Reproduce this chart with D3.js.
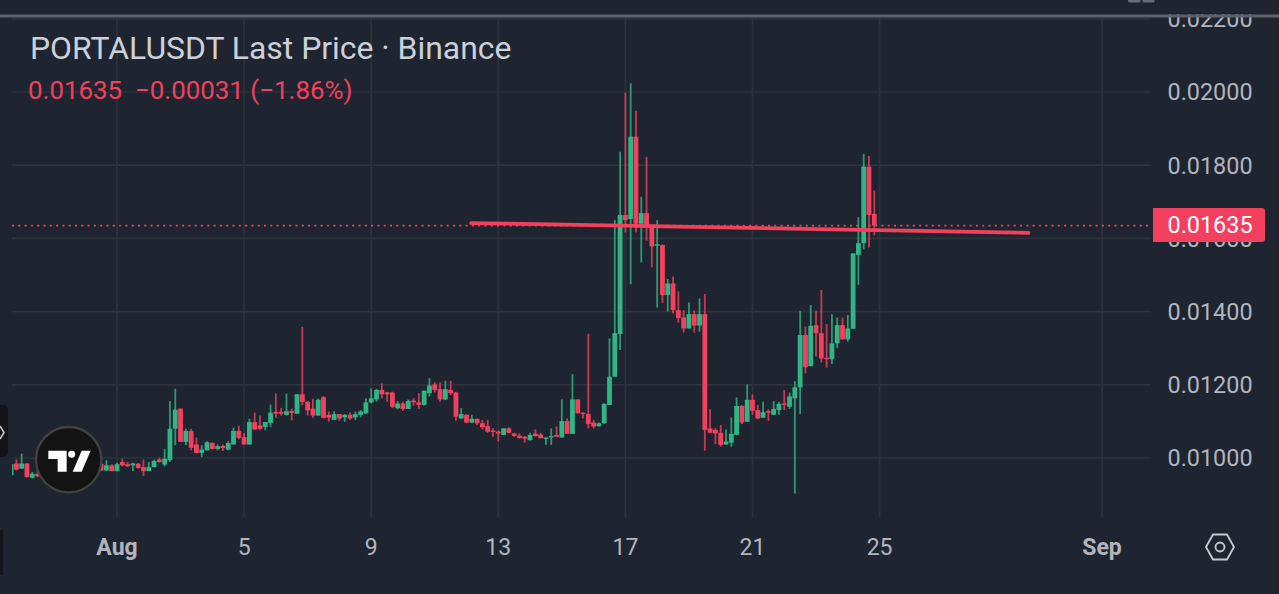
<!DOCTYPE html>
<html><head><meta charset="utf-8">
<script src="https://cdn.jsdelivr.net/npm/d3@7"></script>
<style>html,body{margin:0;padding:0;background:#1f2530;overflow:hidden}svg{display:block}text{font-family:Roboto,sans-serif}</style>
</head><body><svg id="c" width="1279" height="594"></svg>
<script>
// Prices in units of 0.00001 USDT; 4-hour candles
const priceUnit = 0.00001;
const candleHours = 4;
const firstCandle = Date.UTC(2024,6,28,16);
const highs = [1010,996,1012,985,962,966,972,975,978,980,
982,984,985,986,988,990,992,989,994,983,
987,998,989,987,986,996,989,995,1001,1025,
1156,1189,1135,1080,1080,1056,1035,1046,1043,1037,
1037,1046,1083,1088,1068,1107,1124,1116,1098,1146,
1176,1137,1176,1135,1174,1358,1156,1162,1162,1169,
1127,1128,1120,1120,1124,1127,1131,1163,1190,1189,
1204,1181,1181,1156,1154,1160,1163,1177,1184,1218,
1207,1206,1211,1211,1181,1136,1120,1118,1108,1104,
1104,1081,1075,1081,1084,1069,1067,1060,1069,1078,
1069,1056,1081,1086,1160,1108,1229,1160,1124,1339,
1104,1097,1149,1327,1650,1837,1998,2024,1949,1714,
1822,1637,1650,1584,1489,1496,1455,1404,1425,1403,
1436,1448,1133,1081,1090,1078,1111,1166,1145,1201,
1174,1145,1154,1133,1156,1154,1186,1179,1210,1402,
1359,1418,1402,1459,1366,1393,1384,1384,1391,1559,
1658,1831,1825,1731];
const lows = [953,966,971,946,944,948,950,955,956,960,
960,962,964,965,966,966,968,964,964,964,
964,977,975,964,971,951,964,975,987,977,
989,1035,1044,1035,1021,1012,1003,1021,1023,1021,
1019,1021,1037,1051,1037,1037,1076,1076,1076,1085,
1110,1116,1116,1103,1121,1144,1116,1110,1116,1108,
1099,1104,1102,1099,1104,1104,1111,1120,1149,1154,
1163,1154,1136,1133,1129,1134,1143,1134,1143,1168,
1179,1154,1158,1172,1102,1108,1095,1095,1090,1078,
1069,1058,1045,1063,1067,1058,1054,1042,1047,1058,
1054,1036,1036,1058,1056,1066,1066,1122,1108,1081,
1081,1086,1093,1145,1222,1295,1616,1475,1616,1534,
1594,1521,1411,1423,1400,1395,1370,1343,1354,1343,
1345,1020,1069,1038,1031,1036,1031,1063,1093,1099,
1118,1106,1110,1101,1118,1118,1131,1134,903,1120,
1231,1251,1277,1261,1247,1257,1300,1324,1318,1353,
1473,1570,1575,1609];
const opens = [953,985,971,985,946,957,952,968,958,972,
962,976,966,980,968,982,970,984,966,980,
964,989,983,980,984,975,964,975,996,982,
994,1080,1135,1044,1074,1037,1014,1021,1041,1025,
1033,1023,1037,1074,1057,1037,1098,1089,1085,1096,
1126,1126,1118,1128,1121,1174,1153,1135,1116,1166,
1118,1104,1120,1111,1118,1111,1118,1122,1152,1160,
1186,1179,1179,1136,1149,1134,1157,1152,1145,1177,
1201,1188,1160,1186,1179,1108,1118,1097,1107,1095,
1087,1075,1072,1063,1081,1067,1061,1058,1049,1067,
1064,1054,1056,1063,1056,1101,1066,1160,1124,1120,
1097,1087,1095,1145,1222,1339,1664,1653,1878,1640,
1669,1637,1580,1582,1445,1477,1404,1384,1354,1393,
1362,1393,1081,1077,1069,1037,1042,1063,1142,1099,
1159,1131,1110,1128,1118,1131,1149,1140,1163,1193,
1336,1251,1363,1341,1274,1270,1313,1363,1324,1353,
1555,1587,1796,1667];
const closes = [983,968,985,948,957,950,965,958,972,962,
975,966,978,968,980,970,984,966,980,964,
983,980,978,985,973,964,975,992,989,998,
1080,1132,1044,1074,1028,1014,1023,1043,1025,1032,
1027,1041,1074,1055,1037,1098,1078,1080,1098,1124,
1121,1121,1128,1123,1174,1153,1130,1116,1159,1110,
1110,1120,1108,1118,1108,1120,1127,1152,1163,1186,
1174,1174,1140,1149,1134,1156,1152,1145,1184,1198,
1186,1160,1188,1177,1113,1120,1097,1107,1095,1084,
1072,1072,1067,1081,1069,1060,1054,1053,1063,1060,
1054,1056,1060,1058,1101,1066,1160,1122,1120,1093,
1086,1095,1148,1222,1341,1664,1650,1878,1640,1669,
1637,1578,1584,1445,1477,1404,1382,1354,1393,1362,
1393,1077,1069,1067,1036,1045,1066,1142,1097,1159,
1129,1108,1125,1124,1134,1148,1146,1168,1193,1336,
1248,1361,1341,1272,1270,1313,1363,1324,1354,1559,
1587,1796,1664,1635];
const priceTicks = [0.022,0.020,0.018,0.016,0.014,0.012,0.010];
const timeTicks = [Date.UTC(2024,7,1),Date.UTC(2024,7,5),Date.UTC(2024,7,9),Date.UTC(2024,7,13),Date.UTC(2024,7,17),Date.UTC(2024,7,21),Date.UTC(2024,7,25),Date.UTC(2024,8,1)];
const timeLabels = ["Aug","5","9","13","17","21","25","Sep"];
const lastPrice = 0.01635;
const titleText = "PORTALUSDT Last Price \u00b7 Binance";
const changeText = "0.01635  \u22120.00031 (\u22121.86%)";
const trendTimes = [Date.UTC(2024,7,12,3,30),Date.UTC(2024,7,29,16,30)];
const trendPrices = [0.01642,0.01615];

const UP="#2fb586", DOWN="#f2405d", BG="#1f2530", GRID="#2d323c", TXT="#b2b5be";
const svg=d3.select("#c");
const x=d3.scaleUtc().domain([timeTicks[0],timeTicks[7]]).range([117,1102]);
const y=d3.scaleLinear().domain([0.010,0.020]).range([458,92]);
const clipL=12, clipR=1151;

svg.append("defs").append("clipPath").attr("id","plot").append("rect").attr("x",clipL).attr("y",17).attr("width",clipR-clipL).attr("height",500);

// grid
svg.append("g").selectAll("line").data(priceTicks).join("line")
 .attr("x1",clipL).attr("x2",clipR).attr("y1",d=>y(d)).attr("y2",d=>y(d)).attr("stroke",GRID).attr("stroke-width",1.7);
svg.append("g").selectAll("line").data(timeTicks).join("line")
 .attr("x1",d=>x(d)).attr("x2",d=>x(d)).attr("y1",17).attr("y2",517).attr("stroke",GRID).attr("stroke-width",1.7);

// y labels
svg.append("g").selectAll("text").data(priceTicks).join("text")
 .attr("x",1167.5).attr("y",d=>y(d)).attr("dy","0.36em").attr("font-size",23.4).attr("fill",TXT).text(d=>d.toFixed(5));

// x labels
svg.append("g").selectAll("text").data(timeTicks).join("text")
 .attr("x",d=>x(d)).attr("y",547).attr("dy","0.36em").attr("text-anchor","middle").attr("font-size",23)
 .attr("font-weight",(d,i)=>(i==0||i==7)?700:400).attr("fill",TXT).text((d,i)=>timeLabels[i]);

const plot=svg.append("g").attr("clip-path","url(#plot)");
// last price dotted line
plot.append("line").attr("x1",clipL).attr("x2",clipR).attr("y1",y(lastPrice)).attr("y2",y(lastPrice))
 .attr("stroke",DOWN).attr("stroke-width",1.6).attr("stroke-dasharray","2 4.3");

// candles
const idx=d3.range(opens.length);
const t=i=>firstCandle+i*candleHours*3600e3;
const col=i=>closes[i]>=opens[i]?UP:DOWN;
plot.append("g").selectAll("line").data(idx).join("line")
 .attr("x1",i=>x(t(i))).attr("x2",i=>x(t(i)))
 .attr("y1",i=>y(highs[i]*priceUnit)).attr("y2",i=>y(lows[i]*priceUnit))
 .attr("stroke",col).attr("stroke-width",1.8).attr("stroke-opacity",0.8);
plot.append("g").selectAll("rect").data(idx).join("rect")
 .attr("x",i=>x(t(i))-2.4).attr("width",4.8)
 .attr("y",i=>Math.min(y(opens[i]*priceUnit),y(closes[i]*priceUnit)))
 .attr("height",i=>Math.max(1.4,Math.abs(y(opens[i]*priceUnit)-y(closes[i]*priceUnit))))
 .attr("fill",col);

// hand-drawn trend line
svg.append("line").attr("x1",x(trendTimes[0])).attr("x2",x(trendTimes[1]))
 .attr("y1",y(trendPrices[0])).attr("y2",y(trendPrices[1]))
 .attr("stroke",DOWN).attr("stroke-width",3.8).attr("stroke-linecap","round");

// top band
svg.append("rect").attr("x",0).attr("y",0).attr("width",1279).attr("height",14.5).attr("fill",BG);
svg.append("rect").attr("x",0).attr("y",14.5).attr("width",1279).attr("height",3).attr("fill","#5c606a");
svg.append("rect").attr("x",1128).attr("y",-4).attr("width",12.5).attr("height",6.5).attr("rx",1.5).attr("fill","#666b76");
svg.append("rect").attr("x",1142.5).attr("y",-4).attr("width",12).attr("height",6.5).attr("rx",1.5).attr("fill","#666b76");

// last price badge
svg.append("path").attr("d","M1153 208H1262a3 3 0 0 1 3 3V239a3 3 0 0 1-3 3H1153Z").attr("fill","#f4405f");
svg.append("text").attr("x",1167.5).attr("y",225).attr("dy","0.36em").attr("font-size",23.4).attr("fill","#fff").text(lastPrice.toFixed(5));

// legend
svg.append("text").attr("x",30).attr("y",48).attr("dy","0.36em").attr("font-size",31.9).attr("fill","#ccd0d8").text(titleText);
svg.append("text").attr("x",28).attr("y",90).attr("dy","0.36em").attr("font-size",25.9).attr("fill",DOWN).style("white-space","pre").text(changeText);

// left tab
svg.append("path").attr("d","M0 405H3a5 5 0 0 1 5 5V452a5 5 0 0 1-5 5H0Z").attr("fill","#131418");
svg.append("path").attr("d","M0 426L4 432.5L0 439").attr("fill","none").attr("stroke","#c8c8c8").attr("stroke-width",1.6);
svg.append("rect").attr("x",0).attr("y",530).attr("width",3).attr("height",45).attr("fill","#14171e");

// logo
const logo=svg.append("g").attr("transform","translate(0,360) scale(0.3333)");
logo.append("circle").attr("cx",206).attr("cy",299).attr("r",98).attr("fill","#131313").attr("stroke","#414141").attr("stroke-width",7);
logo.append("path").attr("fill","#fff").attr("d","M145 272H200V335H173V297H145Z M245 272H272L245 335H218Z");
logo.append("circle").attr("cx",215).attr("cy",283).attr("r",10.5).attr("fill","#fff");

// settings hexagon
const hex=svg.append("g").attr("transform","translate(1220,547)");
hex.append("path").attr("d","M-14 0L-7 -12.5H7L14 0L7 12.5H-7Z").attr("fill","none").attr("stroke","#c8cad0").attr("stroke-width",1.8);
hex.append("circle").attr("r",4.5).attr("fill","none").attr("stroke","#c8cad0").attr("stroke-width",1.8);
</script></body></html>
